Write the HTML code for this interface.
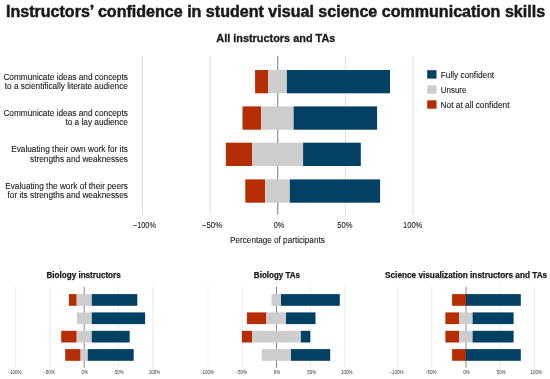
<!DOCTYPE html>
<html><head><meta charset="utf-8"><title>Instructors’ confidence</title>
<style>
html,body{margin:0;padding:0;background:#fff;}
body{width:550px;height:379px;overflow:hidden;}
svg{display:block;font-family:'Liberation Sans', Arial, sans-serif;}
</style></head><body>
<svg width="550" height="379" viewBox="0 0 550 379">
<rect width="550" height="379" fill="#fff"/>
<text x="5.96" y="17.30" font-size="16" text-anchor="start" font-weight="bold" fill="#1A1A1A" textLength="539.13" lengthAdjust="spacingAndGlyphs" stroke="#1A1A1A" stroke-width="0.5">Instructors’ confidence in student visual science communication skills</text>
<text x="216.30" y="42.40" font-size="10.7" text-anchor="start" font-weight="bold" fill="#1A1A1A" textLength="119.07" lengthAdjust="spacingAndGlyphs" stroke="#1A1A1A" stroke-width="0.3">All instructors and TAs</text>
<line x1="142.55" y1="55.9" x2="142.55" y2="214.8" stroke="#DEDEDE" stroke-width="1"/>
<line x1="210.15" y1="55.9" x2="210.15" y2="214.8" stroke="#DEDEDE" stroke-width="1"/>
<line x1="345.35" y1="55.9" x2="345.35" y2="214.8" stroke="#DEDEDE" stroke-width="1"/>
<line x1="412.95" y1="55.9" x2="412.95" y2="214.8" stroke="#DEDEDE" stroke-width="1"/>
<line x1="277.75" y1="55.9" x2="277.75" y2="214.8" stroke="#7A7A7A" stroke-width="1"/>
<rect x="255.10" y="70.00" width="12.90" height="23.30" fill="#B72D02"/>
<rect x="268.00" y="70.00" width="18.90" height="23.30" fill="#CDCDCD"/>
<rect x="286.90" y="70.00" width="103.10" height="23.30" fill="#024064"/>
<rect x="242.50" y="106.40" width="18.70" height="23.30" fill="#B72D02"/>
<rect x="261.20" y="106.40" width="32.40" height="23.30" fill="#CDCDCD"/>
<rect x="293.60" y="106.40" width="83.50" height="23.30" fill="#024064"/>
<rect x="225.90" y="142.70" width="26.10" height="23.30" fill="#B72D02"/>
<rect x="252.00" y="142.70" width="51.10" height="23.30" fill="#CDCDCD"/>
<rect x="303.10" y="142.70" width="57.70" height="23.30" fill="#024064"/>
<rect x="245.30" y="179.40" width="19.80" height="23.30" fill="#B72D02"/>
<rect x="265.10" y="179.40" width="24.70" height="23.30" fill="#CDCDCD"/>
<rect x="289.80" y="179.40" width="90.30" height="23.30" fill="#024064"/>
<text x="132.89" y="228.10" font-size="8.27" text-anchor="start" font-weight="normal" fill="#1A1A1A" textLength="23.11" lengthAdjust="spacingAndGlyphs" stroke="#1A1A1A" stroke-width="0.1">−100%</text>
<text x="202.01" y="228.10" font-size="8.27" text-anchor="start" font-weight="normal" fill="#1A1A1A" textLength="20.05" lengthAdjust="spacingAndGlyphs" stroke="#1A1A1A" stroke-width="0.1">−50%</text>
<text x="273.82" y="228.10" font-size="8.27" text-anchor="start" font-weight="normal" fill="#1A1A1A" textLength="10.51" lengthAdjust="spacingAndGlyphs" stroke="#1A1A1A" stroke-width="0.1">0%</text>
<text x="337.37" y="228.10" font-size="8.27" text-anchor="start" font-weight="normal" fill="#1A1A1A" textLength="15.28" lengthAdjust="spacingAndGlyphs" stroke="#1A1A1A" stroke-width="0.1">50%</text>
<text x="403.02" y="228.10" font-size="8.27" text-anchor="start" font-weight="normal" fill="#1A1A1A" textLength="19.30" lengthAdjust="spacingAndGlyphs" stroke="#1A1A1A" stroke-width="0.1">100%</text>
<text x="230.12" y="243.00" font-size="8.27" text-anchor="start" font-weight="normal" fill="#1A1A1A" textLength="94.68" lengthAdjust="spacingAndGlyphs" stroke="#1A1A1A" stroke-width="0.1">Percentage of participants</text>
<text x="127.90" y="79.75" font-size="8.27" text-anchor="end" font-weight="normal" fill="#1A1A1A" stroke="#1A1A1A" stroke-width="0.1">Communicate ideas and concepts</text>
<text x="127.90" y="89.05" font-size="8.27" text-anchor="end" font-weight="normal" fill="#1A1A1A" stroke="#1A1A1A" stroke-width="0.1">to a scientifically literate audience</text>
<text x="127.90" y="116.15" font-size="8.27" text-anchor="end" font-weight="normal" fill="#1A1A1A" stroke="#1A1A1A" stroke-width="0.1">Communicate ideas and concepts</text>
<text x="127.90" y="125.45" font-size="8.27" text-anchor="end" font-weight="normal" fill="#1A1A1A" stroke="#1A1A1A" stroke-width="0.1">to a lay audience</text>
<text x="127.90" y="152.45" font-size="8.27" text-anchor="end" font-weight="normal" fill="#1A1A1A" stroke="#1A1A1A" stroke-width="0.1">Evaluating their own work for its</text>
<text x="127.90" y="161.75" font-size="8.27" text-anchor="end" font-weight="normal" fill="#1A1A1A" stroke="#1A1A1A" stroke-width="0.1">strengths and weaknesses</text>
<text x="127.90" y="189.15" font-size="8.27" text-anchor="end" font-weight="normal" fill="#1A1A1A" stroke="#1A1A1A" stroke-width="0.1">Evaluating the work of their peers</text>
<text x="127.90" y="198.45" font-size="8.27" text-anchor="end" font-weight="normal" fill="#1A1A1A" stroke="#1A1A1A" stroke-width="0.1">for its strengths and weaknesses</text>
<rect x="427.20" y="70.20" width="9.30" height="8.40" fill="#024064"/>
<text x="440.72" y="77.80" font-size="8.27" text-anchor="start" font-weight="normal" fill="#1A1A1A" textLength="53.38" lengthAdjust="spacingAndGlyphs" stroke="#1A1A1A" stroke-width="0.1">Fully confident</text>
<rect x="427.20" y="85.40" width="9.30" height="8.40" fill="#CDCDCD"/>
<text x="440.79" y="93.00" font-size="8.27" text-anchor="start" font-weight="normal" fill="#1A1A1A" textLength="25.58" lengthAdjust="spacingAndGlyphs" stroke="#1A1A1A" stroke-width="0.1">Unsure</text>
<rect x="427.20" y="100.30" width="9.30" height="8.40" fill="#B72D02"/>
<text x="440.58" y="107.90" font-size="8.27" text-anchor="start" font-weight="normal" fill="#1A1A1A" textLength="68.90" lengthAdjust="spacingAndGlyphs" stroke="#1A1A1A" stroke-width="0.1">Not at all confident</text>
<text x="46.53" y="278.00" font-size="8.3" text-anchor="start" font-weight="bold" fill="#1A1A1A" textLength="74.17" lengthAdjust="spacingAndGlyphs" stroke="#1A1A1A" stroke-width="0.25">Biology instructors</text>
<line x1="15.70" y1="286.7" x2="15.70" y2="368.2" stroke="#DEDEDE" stroke-width="0.6"/>
<line x1="49.95" y1="286.7" x2="49.95" y2="368.2" stroke="#DEDEDE" stroke-width="0.6"/>
<line x1="118.45" y1="286.7" x2="118.45" y2="368.2" stroke="#DEDEDE" stroke-width="0.6"/>
<line x1="152.70" y1="286.7" x2="152.70" y2="368.2" stroke="#DEDEDE" stroke-width="0.6"/>
<line x1="84.2" y1="286.7" x2="84.2" y2="367.8" stroke="#7A7A7A" stroke-width="0.9"/>
<rect x="68.90" y="294.10" width="7.80" height="11.70" fill="#B72D02"/>
<rect x="76.70" y="294.10" width="15.10" height="11.70" fill="#CDCDCD"/>
<rect x="91.80" y="294.10" width="45.50" height="11.70" fill="#024064"/>
<rect x="77.00" y="312.40" width="14.80" height="11.70" fill="#CDCDCD"/>
<rect x="91.80" y="312.40" width="53.30" height="11.70" fill="#024064"/>
<rect x="61.20" y="330.80" width="15.50" height="11.70" fill="#B72D02"/>
<rect x="76.70" y="330.80" width="15.10" height="11.70" fill="#CDCDCD"/>
<rect x="91.80" y="330.80" width="37.90" height="11.70" fill="#024064"/>
<rect x="65.20" y="349.10" width="15.40" height="11.70" fill="#B72D02"/>
<rect x="80.60" y="349.10" width="7.20" height="11.70" fill="#CDCDCD"/>
<rect x="87.80" y="349.10" width="45.90" height="11.70" fill="#024064"/>
<text x="15.10" y="374.20" font-size="4.5" text-anchor="middle" font-weight="normal" fill="#333">-100%</text>
<text x="49.45" y="374.20" font-size="4.5" text-anchor="middle" font-weight="normal" fill="#333">-50%</text>
<text x="84.80" y="374.20" font-size="4.5" text-anchor="middle" font-weight="normal" fill="#333">0%</text>
<text x="119.35" y="374.20" font-size="4.5" text-anchor="middle" font-weight="normal" fill="#333">50%</text>
<text x="154.50" y="374.20" font-size="4.5" text-anchor="middle" font-weight="normal" fill="#333">100%</text>
<text x="253.86" y="278.00" font-size="8.3" text-anchor="start" font-weight="bold" fill="#1A1A1A" textLength="46.23" lengthAdjust="spacingAndGlyphs" stroke="#1A1A1A" stroke-width="0.25">Biology TAs</text>
<line x1="208.00" y1="286.7" x2="208.00" y2="368.2" stroke="#DEDEDE" stroke-width="0.6"/>
<line x1="242.25" y1="286.7" x2="242.25" y2="368.2" stroke="#DEDEDE" stroke-width="0.6"/>
<line x1="310.75" y1="286.7" x2="310.75" y2="368.2" stroke="#DEDEDE" stroke-width="0.6"/>
<line x1="345.00" y1="286.7" x2="345.00" y2="368.2" stroke="#DEDEDE" stroke-width="0.6"/>
<line x1="276.5" y1="286.7" x2="276.5" y2="367.8" stroke="#7A7A7A" stroke-width="0.9"/>
<rect x="271.50" y="294.10" width="9.50" height="11.70" fill="#CDCDCD"/>
<rect x="281.00" y="294.10" width="58.80" height="11.70" fill="#024064"/>
<rect x="246.90" y="312.40" width="19.50" height="11.70" fill="#B72D02"/>
<rect x="266.40" y="312.40" width="19.60" height="11.70" fill="#CDCDCD"/>
<rect x="286.00" y="312.40" width="29.50" height="11.70" fill="#024064"/>
<rect x="241.90" y="330.80" width="10.20" height="11.70" fill="#B72D02"/>
<rect x="252.10" y="330.80" width="48.80" height="11.70" fill="#CDCDCD"/>
<rect x="300.90" y="330.80" width="9.40" height="11.70" fill="#024064"/>
<rect x="261.70" y="349.10" width="29.30" height="11.70" fill="#CDCDCD"/>
<rect x="291.00" y="349.10" width="39.20" height="11.70" fill="#024064"/>
<text x="207.40" y="374.20" font-size="4.5" text-anchor="middle" font-weight="normal" fill="#333">-100%</text>
<text x="241.75" y="374.20" font-size="4.5" text-anchor="middle" font-weight="normal" fill="#333">-50%</text>
<text x="277.10" y="374.20" font-size="4.5" text-anchor="middle" font-weight="normal" fill="#333">0%</text>
<text x="311.65" y="374.20" font-size="4.5" text-anchor="middle" font-weight="normal" fill="#333">50%</text>
<text x="346.80" y="374.20" font-size="4.5" text-anchor="middle" font-weight="normal" fill="#333">100%</text>
<text x="385.04" y="278.00" font-size="8.3" text-anchor="start" font-weight="bold" fill="#1A1A1A" textLength="162.14" lengthAdjust="spacingAndGlyphs" stroke="#1A1A1A" stroke-width="0.25">Science visualization instructors and TAs</text>
<line x1="397.50" y1="286.7" x2="397.50" y2="368.2" stroke="#DEDEDE" stroke-width="0.6"/>
<line x1="431.75" y1="286.7" x2="431.75" y2="368.2" stroke="#DEDEDE" stroke-width="0.6"/>
<line x1="500.25" y1="286.7" x2="500.25" y2="368.2" stroke="#DEDEDE" stroke-width="0.6"/>
<line x1="534.50" y1="286.7" x2="534.50" y2="368.2" stroke="#DEDEDE" stroke-width="0.6"/>
<line x1="466.0" y1="286.7" x2="466.0" y2="367.8" stroke="#7A7A7A" stroke-width="0.9"/>
<rect x="452.10" y="294.10" width="13.90" height="11.70" fill="#B72D02"/>
<rect x="466.00" y="294.10" width="54.80" height="11.70" fill="#024064"/>
<rect x="445.40" y="312.40" width="13.60" height="11.70" fill="#B72D02"/>
<rect x="459.00" y="312.40" width="13.60" height="11.70" fill="#CDCDCD"/>
<rect x="472.60" y="312.40" width="41.00" height="11.70" fill="#024064"/>
<rect x="445.40" y="330.80" width="13.60" height="11.70" fill="#B72D02"/>
<rect x="459.00" y="330.80" width="13.60" height="11.70" fill="#CDCDCD"/>
<rect x="472.60" y="330.80" width="41.00" height="11.70" fill="#024064"/>
<rect x="452.10" y="349.10" width="13.90" height="11.70" fill="#B72D02"/>
<rect x="466.00" y="349.10" width="54.80" height="11.70" fill="#024064"/>
<text x="396.90" y="374.20" font-size="4.5" text-anchor="middle" font-weight="normal" fill="#333">-100%</text>
<text x="431.25" y="374.20" font-size="4.5" text-anchor="middle" font-weight="normal" fill="#333">-50%</text>
<text x="466.60" y="374.20" font-size="4.5" text-anchor="middle" font-weight="normal" fill="#333">0%</text>
<text x="501.15" y="374.20" font-size="4.5" text-anchor="middle" font-weight="normal" fill="#333">50%</text>
<text x="536.30" y="374.20" font-size="4.5" text-anchor="middle" font-weight="normal" fill="#333">100%</text>
</svg>
</body></html>
